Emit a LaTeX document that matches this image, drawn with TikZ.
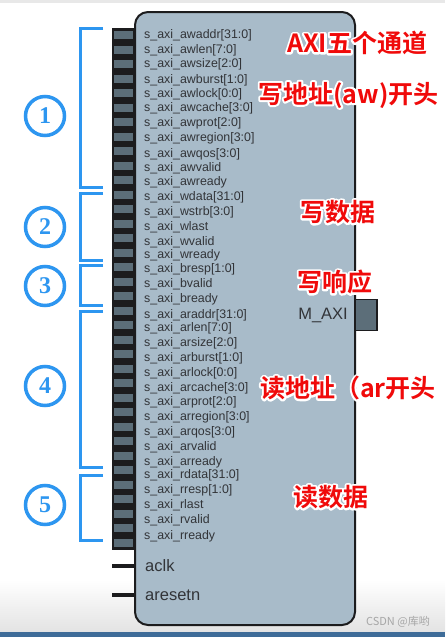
\documentclass[tikz,border=0pt]{standalone}
\usepackage{fontspec}
\setmainfont{Liberation Sans}
\newfontfamily\numfont{Liberation Serif}
\newfontfamily\cjk{Noto Sans CJK SC Bold}
\newfontfamily\cjklight{Noto Sans CJK SC}
\usetikzlibrary{calc}

\definecolor{ipfill}{RGB}{168,187,201}
\definecolor{pinfill}{RGB}{92,110,121}
\definecolor{edge}{RGB}{28,28,30}
\definecolor{axiblue}{RGB}{45,150,240}
\definecolor{annored}{RGB}{240,10,10}
\definecolor{sigtext}{RGB}{50,52,56}
\definecolor{barblue}{RGB}{62,108,152}

\tikzset{
  signal/.style={anchor=west, inner sep=0pt, text=sigtext, font=\fontsize{12.4}{13}\selectfont},
  bigsig/.style={anchor=west, inner sep=0pt, text=sigtext, font=\fontsize{16.5}{17}\selectfont},
  bracket/.style={draw=axiblue, line width=3pt},
  chnum/.style={circle, draw=axiblue, line width=3.5pt, minimum size=39pt, inner sep=0pt,
    text=axiblue, font=\numfont\bfseries\fontsize{24}{24}\selectfont},
  anno/.style={anchor=west, inner sep=0pt, text=annored, font=\cjk\fontsize{25}{25}\selectfont}
}

% red note with a white rim (stroked copy under the filled one)
\newcommand{\rimtext}[1]{%
  \rlap{\color{white}\special{pdf:literal 1 Tr 4 w 1 j}#1\special{pdf:literal 0 Tr}}#1}

\begin{document}
\begin{tikzpicture}[x=1pt, y=-1pt]
  \useasboundingbox (0,0) rectangle (445,637);
  \fill[white] (0,0) rectangle (445,637);
  \fill[gray!18] (0,0) rectangle (445,3);
  \shade[top color=white, bottom color=gray!22] (0,580) rectangle (445,632);
  \fill[barblue] (0,632) rectangle (445,637);

  % IP block
  \node (ip) [draw=edge, fill=ipfill, line width=2pt, rounded corners=13pt,
    minimum width=220pt, minimum height=613pt] at (245,318.5) {};
  \node (port) [draw=edge, fill=pinfill, line width=1.5pt,
    minimum width=22pt, minimum height=31pt, inner sep=0pt] at (366,315) {};
  \node (maxi) [anchor=east, inner sep=0pt, text=sigtext,
    font=\fontsize{16.5}{17}\selectfont] at (348,315) {M\_AXI};

  % pin strip
  \fill[edge] (112,28) rectangle (135,550);
  \foreach \i in {0,...,35}
    \fill[pinfill] (114,28+14.5*\i+3) rectangle (133,28+14.5*\i+11);

  \foreach \y/\s in {35/awaddr[31:0], 50/awlen[7:0], 64/awsize[2:0], 80/awburst[1:0],
      94/awlock[0:0], 108/awcache[3:0], 123/awprot[2:0], 138/awregion[3:0],
      154/awqos[3:0], 168/awvalid, 182/awready,
      197/wdata[31:0], 212/wstrb[3:0], 227/wlast, 242/wvalid, 255/wready,
      269/bresp[1:0], 284/bvalid, 299/bready,
      315/araddr[31:0], 328/arlen[7:0], 343/arsize[2:0], 358/arburst[1:0],
      373/arlock[0:0], 388/arcache[3:0], 402/arprot[2:0], 417/arregion[3:0],
      432/arqos[3:0], 447/arvalid, 462/arready,
      475/rdata[31:0], 490/rresp[1:0], 505/rlast, 520/rvalid, 536/rready}
    \node[signal] (sig-\y) at (144,\y) {s\_axi\_\s};

  \draw[edge, line width=4pt] (112,566) -- (135,566);
  \draw[edge, line width=4pt] (112,595) -- (135,595);
  \node[bigsig] (aclk) at (145,566) {aclk};
  \node[bigsig] (aresetn) at (145,595) {aresetn};

  % channel brackets
  \foreach \top/\bot/\mid/\k in {28/187/116/1, 193/260/227/2, 265/305/286/3,
      311/467/386/4, 475/540/505/5} {
    \draw[bracket] (103,\top) -- (80,\top) -- (80,\bot) -- (103,\bot);
    \node[chnum] (ch\k) at (45,\mid) {\k};
  }

  % notes
  \node[anno] (n1) at (287,43) {\rimtext{AXI五个通道}};
  \node[anno] (n2) at (258,95) {\rimtext{写地址(aw)开头}};
  \node[anno] (n3) at (300,212) {\rimtext{写数据}};
  \node[anno] (n4) at (297,282) {\rimtext{写响应}};
  \node[anno] (n5) at (260,388) {\rimtext{读地址（ar开头}};
  \node[anno] (n6) at (293,497) {\rimtext{读数据}};

  \node (mark) [anchor=east, inner sep=0pt, text=gray!70,
    font=\cjklight\fontsize{11}{11}\selectfont] at (430,622) {CSDN @库哟};
\end{tikzpicture}
\end{document}
